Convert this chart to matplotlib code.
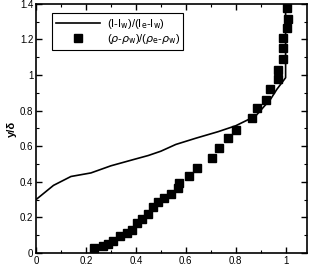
import matplotlib
matplotlib.use("Agg")
from matplotlib import pyplot as plt
from matplotlib.ticker import MultipleLocator

plt.rcParams['font.family'] = ['Liberation Sans', 'DejaVu Sans']

# (I-Iw)/(Ie-Iw) profile
line_x = [0, 0.07, 0.14, 0.22, 0.30, 0.39, 0.45, 0.50, 0.56, 0.64, 0.73, 0.80,
          0.88, 0.94, 0.965, 1.0, 1.0, 1.0]
line_y = [0.30, 0.38, 0.43, 0.45, 0.49, 0.525, 0.548, 0.572, 0.61, 0.645, 0.682,
          0.715, 0.77, 0.865, 0.92, 0.985, 1.2, 1.4]

# (rho-rho_w)/(rho_e-rho_w) profile
rho_x = [0.233, 0.27, 0.289, 0.307, 0.336, 0.363, 0.383, 0.403, 0.425, 0.447,
         0.467, 0.488, 0.512, 0.54, 0.569, 0.573, 0.613, 0.644, 0.705, 0.733,
         0.768, 0.803, 0.867, 0.887, 0.922, 0.936, 0.969, 0.969, 0.989, 0.989,
         0.989, 1.007, 1.009, 1.007]
rho_y = [0.027, 0.04, 0.051, 0.066, 0.098, 0.112, 0.13, 0.168, 0.193, 0.221,
         0.257, 0.285, 0.308, 0.334, 0.367, 0.395, 0.43, 0.476, 0.533, 0.589,
         0.646, 0.693, 0.759, 0.814, 0.862, 0.92, 0.976, 1.03, 1.088, 1.15,
         1.207, 1.263, 1.316, 1.377]

fig = plt.figure(figsize=(3.12, 2.65), dpi=100)
ax = fig.add_axes([0.1154, 0.0453, 0.868, 0.94])

ax.plot(line_x, line_y, color='black', lw=1.2,
        label=r'(I-I$_\mathrm{w}$)/(I$_\mathrm{e}$-I$_\mathrm{w}$)')
ax.plot(rho_x, rho_y, 's', color='black', ms=5.3, ls='none',
        label=r'($\rho$-$\rho_\mathrm{w}$)/($\rho_\mathrm{e}$-$\rho_\mathrm{w}$)')

ax.set_xlim(0, 1.085)
ax.set_ylim(0, 1.4)
ax.xaxis.set_major_locator(MultipleLocator(0.2))
ax.xaxis.set_minor_locator(MultipleLocator(0.1))
ax.yaxis.set_major_locator(MultipleLocator(0.2))
ax.yaxis.set_minor_locator(MultipleLocator(0.1))
ax.xaxis.set_major_formatter(plt.FuncFormatter(lambda v, p: f'{v:g}'))
ax.yaxis.set_major_formatter(plt.FuncFormatter(lambda v, p: f'{v:g}'))
ax.tick_params(which='both', direction='in', top=True, right=True, labelsize=7, pad=2)
ax.tick_params(which='major', length=4, width=1)
ax.tick_params(which='minor', length=2, width=0.8)
for s in ax.spines.values():
    s.set_linewidth(1.2)

ax.set_ylabel('y/δ', fontsize=8, fontweight='bold', labelpad=2)

leg = ax.legend(loc='upper left', bbox_to_anchor=(0.04, 0.985), fontsize=8,
                handlelength=4.0, frameon=True, fancybox=False, framealpha=1,
                edgecolor='black', borderpad=0.3, labelspacing=0.15,
                handletextpad=0.6)
leg.get_frame().set_linewidth(0.8)

fig.savefig('out.png', dpi=100)
